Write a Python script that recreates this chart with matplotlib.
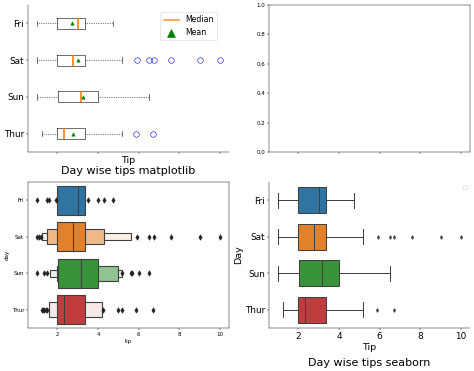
import matplotlib

matplotlib.use("Agg")
import matplotlib.pyplot as plt  # noqa: E402
from matplotlib.lines import Line2D  # noqa: E402
import numpy as np  # noqa: E402

# --- data (tips dataset, per day) ---
days = ["Fri", "Sat", "Sun", "Thur"]
tip_q1 = [1.96, 2.0, 2.0375, 2.0]
tip_med = [3.0, 2.75, 3.15, 2.305]
tip_q3 = [3.365, 3.37, 4.0, 3.3625]
tip_whislo = [1.0, 1.0, 1.01, 1.25]
tip_whishi = [4.73, 5.16, 6.5, 5.17]
tip_mean = [2.734, 2.993, 3.255, 2.772]
tip_fliers = [[], [5.92, 6.5, 6.73, 7.58, 9.0, 10.0], [], [5.85, 6.7]]

# letter-value boxes (innermost first) for the boxen plot
boxen_lo = [[1.96], [2.0, 1.48, 1.23], [2.04, 2.0, 1.64], [2.0, 1.59]]
boxen_hi = [[3.365], [3.37, 4.31, 5.63], [4.0, 5.0, 5.19], [3.36, 4.21]]
boxen_out = [
    [1.0, 1.5, 1.58, 1.92, 3.5, 4.0, 4.3, 4.73],
    [1.0, 1.07, 1.17, 5.92, 6.5, 6.73, 7.58, 9.0, 10.0],
    [1.01, 1.32, 1.5, 5.2, 5.6, 5.65, 6.0, 6.5],
    [1.25, 1.3, 1.36, 1.44, 1.5, 4.25, 5.0, 5.17, 5.85, 6.7],
]

PALETTE = ["#3274a1", "#e1812c", "#3a923a", "#c03d3e"]
GRAY = "#3f3f3f"


def mix(c, t):
    rgb = np.array(matplotlib.colors.to_rgb(c))
    return tuple(rgb * (1 - t) + t)


def stats():
    return [
        dict(label=d, q1=tip_q1[i], med=tip_med[i], q3=tip_q3[i],
             whislo=tip_whislo[i], whishi=tip_whishi[i], mean=tip_mean[i],
             fliers=tip_fliers[i])
        for i, d in enumerate(days)
    ]


fig, axes = plt.subplots(2, 2, sharex="col", figsize=(11.85, 9.275), dpi=40)
ax1, ax2, ax3, ax4 = axes[0, 0], axes[0, 1], axes[1, 0], axes[1, 1]
ax1.set_position([0.0591, 0.5903, 0.4241, 0.3962])
ax2.set_position([0.5675, 0.5903, 0.4241, 0.3962])
ax3.set_position([0.0591, 0.1159, 0.4241, 0.3935])
ax4.set_position([0.5675, 0.1159, 0.4241, 0.3935])

# --- top left: plain matplotlib boxplot ---
ax1.bxp(stats(), positions=[1, 2, 3, 4], widths=0.3, vert=False,
        showmeans=True,
        whiskerprops=dict(linestyle=":", linewidth=1.2),
        medianprops=dict(color="C1", linewidth=3),
        meanprops=dict(marker="^", markerfacecolor="green",
                       markeredgecolor="green", markersize=6),
        flierprops=dict(marker="o", markerfacecolor="none",
                        markeredgecolor="blue", markersize=10))
ax1.set_ylim(4.5, 0.5)
ax1.tick_params(axis="y", labelsize=16)
ax1.set_xlabel("Tip", fontsize=17)
ax1.set_title("Day wise tips matplotlib", fontsize=20, y=-0.15, pad=0)
ax1.spines["top"].set_visible(False)
ax1.spines["right"].set_visible(False)
handles = [
    Line2D([0], [0], color="C1", linewidth=3, alpha=0.8, label="Median"),
    Line2D([0], [0], marker="^", color="green", linestyle="None",
           markersize=15, label="Mean"),
]
ax1.legend(handles=handles, loc="upper right", bbox_to_anchor=(0.94, 0.95),
           borderaxespad=0, fontsize=14)

# --- top right: empty axes ---
ax2.set_ylim(0, 1)

# --- bottom left: boxen plot ---
heights = [0.8, 0.4, 0.2]
for i, d in enumerate(days):
    k = len(boxen_lo[i])
    for j in reversed(range(k)):
        t = 0.0 if k == 1 else 0.88 * j / (k - 1)
        ax3.barh(i, boxen_hi[i][j] - boxen_lo[i][j], left=boxen_lo[i][j],
                 height=heights[j], color=mix(PALETTE[i], t),
                 edgecolor=GRAY, linewidth=2, zorder=2 + (k - j))
    ax3.plot([tip_med[i], tip_med[i]], [i - 0.4, i + 0.4], color=GRAY,
             linewidth=2, zorder=10)
    ax3.plot(boxen_out[i], [i] * len(boxen_out[i]), linestyle="None",
             marker="d", color="#222222", markersize=7, zorder=11)
ax3.set_yticks(range(len(days)))
ax3.set_yticklabels(days)
ax3.set_ylim(3.5, -0.5)
ax3.set_xlim(0.55, 10.45)
ax3.set_xlabel("tip")
ax3.set_ylabel("day")

# --- bottom right: seaborn-looking boxplot ---
bp = ax4.bxp(stats(), positions=[0, 1, 2, 3], widths=0.72, vert=False,
             patch_artist=True, capwidths=0.4,
             boxprops=dict(edgecolor=GRAY, linewidth=1.8),
             whiskerprops=dict(color=GRAY, linewidth=1.8),
             capprops=dict(color=GRAY, linewidth=1.8),
             medianprops=dict(color=GRAY, linewidth=1.8),
             flierprops=dict(marker="d", markerfacecolor=GRAY,
                             markeredgecolor=GRAY, markersize=5))
for patch, c in zip(bp["boxes"], PALETTE):
    patch.set_facecolor(c)
ax4.set_ylim(3.5, -0.5)
ax4.tick_params(labelsize=16)
ax4.tick_params(axis="x", labelbottom=True)
ax4.set_xlabel("Tip", fontsize=17)
ax4.set_ylabel("Day", fontsize=17)
ax4.set_title("Day wise tips seaborn", fontsize=20, y=-0.26, pad=0)
ax4.spines["top"].set_visible(False)
ax4.spines["right"].set_visible(False)
ax4.legend(handles=[], loc="upper right")

fig.savefig("out.png", dpi=40)
